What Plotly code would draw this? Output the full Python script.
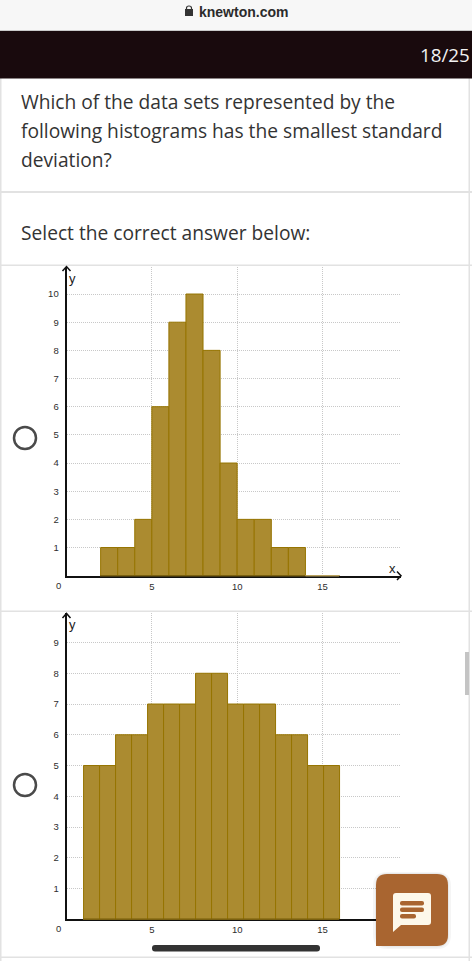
import plotly.graph_objects as go

W = 472
H = 961

# data
top_x = [2.5, 3.5, 4.5, 5.5, 6.5, 7.5, 8.5, 9.5, 10.5, 11.5, 12.5, 13.5, 14.5, 15.5]
top_y = [1, 1, 2, 6, 9, 10, 8, 4, 2, 2, 1, 1, 0, 0]
bottom_x = [1.46875, 2.40625, 3.34375, 4.28125, 5.21875, 6.15625, 7.09375, 8.03125,
            8.96875, 9.90625, 10.84375, 11.78125, 12.71875, 13.65625, 14.59375, 15.53125]
bottom_y = [5, 5, 6, 6, 7, 7, 7, 8, 8, 7, 7, 7, 6, 6, 5, 5]
x_ticks = [5, 10, 15]
top_y_ticks = [1, 2, 3, 4, 5, 6, 7, 8, 9, 10]
bottom_y_ticks = [1, 2, 3, 4, 5, 6, 7, 8, 9]
question = ["Which of the data sets represented by the",
            "following histograms has the smallest standard",
            "deviation?"]

BAR = "#ab8b30"
EDGE = "#967400"
GRID = "#c8c8c8"
TICK = "#2e2e2e"
TEXT = "#333333"
DIVIDER = "#e2e2e2"
CHAT = "#a96530"


def px(x):
    return x / W


def py(y):
    return 1 - y / H


def box(x0, y0, x1, y1, color, **kw):
    return dict(type="rect", xref="paper", yref="paper", x0=px(x0), x1=px(x1),
                y0=py(y1), y1=py(y0), fillcolor=color, line_width=0, **kw)


def seg(x0, y0, x1, y1, color, width=1.5):
    return dict(type="line", xref="paper", yref="paper", x0=px(x0), x1=px(x1),
                y0=py(y0), y1=py(y1), line=dict(color=color, width=width))


def path(points, color=None, fill=None, width=2):
    # points are (command, x, y, ...) in page pixels
    d = ""
    for p in points:
        d += p[0]
        vals = p[1:]
        for i in range(0, len(vals), 2):
            d += f"{px(vals[i]):.5f},{py(vals[i + 1]):.5f} "
    d += "Z" if fill else ""
    return dict(type="path", xref="paper", yref="paper", path=d,
                fillcolor=fill or "rgba(0,0,0,0)",
                line=dict(color=color or "rgba(0,0,0,0)", width=width if color else 0))


def rounded(x0, y0, x1, y1, r, sharp_bl=False):
    pts = [("M", x0 + r, y0), ("L", x1 - r, y0), ("Q", x1, y0, x1, y0 + r),
           ("L", x1, y1 - r), ("Q", x1, y1, x1 - r, y1)]
    if sharp_bl:
        pts += [("L", x0, y1)]
    else:
        pts += [("L", x0 + r, y1), ("Q", x0, y1, x0, y1 - r)]
    pts += [("L", x0, y0 + r), ("Q", x0, y0, x0 + r, y0)]
    return pts


def text(x, y, s, size, color=TEXT, family="Open Sans", anchor="left"):
    return dict(xref="paper", yref="paper", x=px(x), y=py(y), text=s, showarrow=False,
                xanchor=anchor, yanchor="middle", align=anchor,
                font=dict(size=size, color=color, family=family))


def circle(cx, cy, r, color, width):
    return dict(type="circle", xref="paper", yref="paper", x0=px(cx - r), x1=px(cx + r),
                y0=py(cy + r), y1=py(cy - r), line=dict(color=color, width=width))


fig = go.Figure()
fig.add_trace(go.Bar(x=top_x, y=top_y, width=1, xaxis="x", yaxis="y",
                     marker=dict(color=BAR, line=dict(color=EDGE, width=1))))
fig.add_trace(go.Bar(x=bottom_x, y=bottom_y, width=0.9375, xaxis="x2", yaxis="y2",
                     marker=dict(color=BAR, line=dict(color=EDGE, width=1))))

x_common = dict(range=[0, 19.6], tickvals=x_ticks, showgrid=True, gridcolor=GRID, griddash="1px,1px",
                gridwidth=1, zeroline=False, showline=True, linecolor="#111111", linewidth=1.5,
                layer="below traces", ticks="", fixedrange=True, ticklabelstandoff=1,
                tickfont=dict(size=9.5, color=TICK, family="Liberation Sans"))
y_common = dict(showgrid=True, gridcolor=GRID, griddash="1px,1px", gridwidth=1, zeroline=False,
                showline=True, linecolor="#111111", linewidth=1.8,
                ticks="", fixedrange=True, ticklabelstandoff=4,
                tickfont=dict(size=9.5, color=TICK, family="Liberation Sans"))

fig.update_layout(
    width=W, height=H, margin=dict(l=0, r=0, t=0, b=0), autosize=False,
    paper_bgcolor="white", plot_bgcolor="rgba(0,0,0,0)", showlegend=False, barmode="overlay",
    xaxis=dict(domain=[px(66.5), px(401)], anchor="y", **x_common),
    yaxis=dict(domain=[py(575.7), py(266.7)], range=[0, 10.97], tickvals=top_y_ticks,
               anchor="x", **y_common),
    xaxis2=dict(domain=[px(66.5), px(401)], anchor="y2", **x_common),
    yaxis2=dict(domain=[py(919.3), py(613.3)], range=[0, 9.95], tickvals=bottom_y_ticks,
                anchor="x2", **y_common),
)

shapes = [
    box(0, 0, W, 30, "#f7f7f7", layer="below"),
    box(0, 30, W, 31, "#c9c9c9", layer="below"),
    box(0, 31, W, 78.5, "#190a0d"),
    box(0, 191, W, 193, DIVIDER, layer="below"),
    box(0, 264.5, W, 266, DIVIDER, layer="below"),
    box(0, 610.5, W, 612, DIVIDER, layer="below"),
    box(0, 956.5, W, 958, DIVIDER, layer="below"),
    box(0, 78, 1.5, 961, DIVIDER, layer="below"),
    box(468.5, 78, 470, 961, DIVIDER, layer="below"),
    box(465, 652, 469, 695, "#c4c4c4"),
    # lock icon
    box(185, 9, 193, 16, "#333333"),
    path([("M", 186.5, 10), ("L", 186.5, 8), ("Q", 186.5, 6, 189, 6), ("Q", 191.5, 6, 191.5, 8),
          ("L", 191.5, 10)], color="#333333", width=1.2),
    # radio buttons
    circle(25, 438, 11, "#4a4a4a", 2.5),
    circle(25, 785, 11, "#4a4a4a", 2.5),
    # arrow heads and the coloured stretches of the baselines
    path([("M", 62.5, 271), ("L", 66.5, 266.5), ("L", 70.5, 271)], color="#111111", width=1.5),
    path([("M", 397, 571.5), ("L", 401, 575.7), ("L", 397, 580)], color="#111111", width=1.5),
    path([("M", 62.5, 618), ("L", 66.5, 613.5), ("L", 70.5, 618)], color="#111111", width=1.5),
    seg(100, 575.7, 305.5, 575.7, "#7a6010"),
    seg(305.5, 575.7, 339, 575.7, "#b9a25e"),
    seg(83, 919.3, 339, 919.3, "#7a6010"),
    # home indicator
    path(rounded(152, 945, 320, 951.5, 3), fill="#333333"),
    # chat button, with a soft edge
    path(rounded(373, 872, 451, 949, 14), fill="rgba(0,0,0,0.04)"),
    path(rounded(375, 873, 449, 947.5, 13), fill="rgba(0,0,0,0.05)"),
    path(rounded(376, 874, 448, 946, 11, sharp_bl=True), fill=CHAT),
    path([("M", 396, 893), ("L", 428, 893), ("Q", 431, 893, 431, 896), ("L", 431, 922),
          ("Q", 431, 925, 428, 925), ("L", 401, 925), ("L", 393, 932), ("L", 393, 896),
          ("Q", 393, 893, 396, 893)], fill="#fdf8ea"),
    path(rounded(400, 901, 424, 905.5, 2), fill=CHAT),
    path(rounded(400, 907.5, 424, 912, 2), fill=CHAT),
    path(rounded(400, 914, 416, 918.5, 2), fill=CHAT),
]

annotations = [
    text(243.5, 12, "<b>knewton.com</b>", 14, color="#2b2b2b", family="Liberation Sans", anchor="center"),
    text(472, 55, "18/25", 18.8, color="#f2f2f2", anchor="right"),
    text(19, 102, question[0], 19.2),
    text(19, 131, question[1], 19.2),
    text(19, 159, question[2], 19.2),
    text(19, 232.5, "Select the correct answer below:", 19.2),
    text(58.5, 585, "0", 9.5, color=TICK, family="Liberation Sans", anchor="center"),
    text(58.5, 928, "0", 9.5, color=TICK, family="Liberation Sans", anchor="center"),
    text(72.5, 278, "y", 13, color="#222222", family="Liberation Sans", anchor="center"),
    text(72.5, 624, "y", 13, color="#222222", family="Liberation Sans", anchor="center"),
    text(392, 568.5, "x", 13, color="#222222", family="Liberation Sans", anchor="center"),
]

fig.update_layout(shapes=shapes, annotations=annotations)

fig.write_html("out.html", config=dict(displayModeBar=False),
               post_script="document.body.style.margin='0';document.body.style.overflow='hidden';")
